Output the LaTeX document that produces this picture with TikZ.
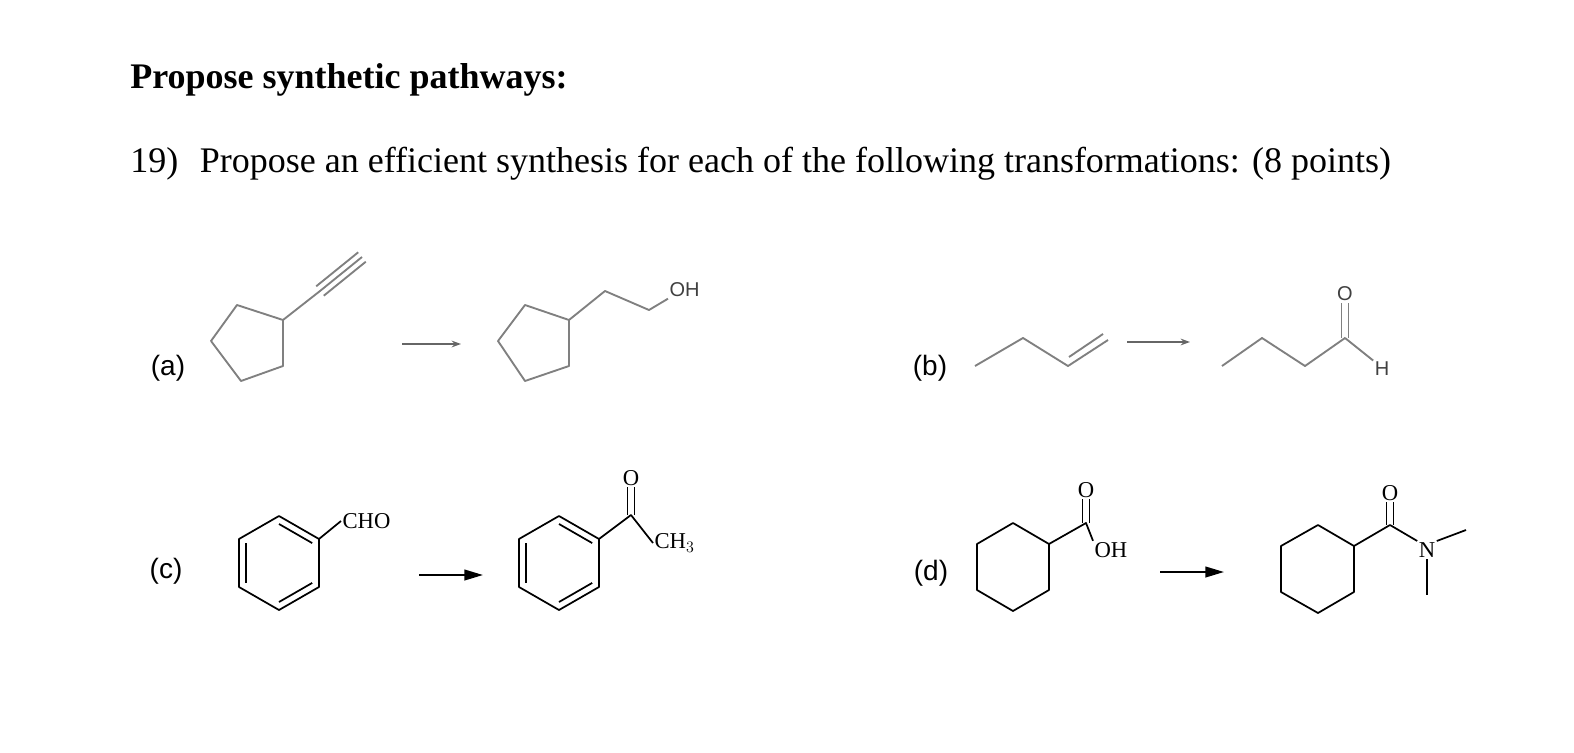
\documentclass[tikz,border=0pt]{standalone}
\usepackage{fontspec}
\setmainfont{Liberation Serif}
\newfontfamily\arial{Liberation Sans}
\usetikzlibrary{calc,arrows.meta}
\begin{document}
\begin{tikzpicture}[x=0.75pt,y=-0.75pt,
  gb/.style={draw=black!50,line width=1.4pt,line join=round},
  bb/.style={draw=black,line width=1.3pt,line join=round},
  lbl/.style={font=\arial\fontsize{21}{24}\selectfont,inner sep=0pt},
  atg/.style={font=\arial\fontsize{15}{18}\selectfont,inner sep=1pt,text=black!75},
  atb/.style={font=\fontsize{17}{20}\selectfont,inner sep=1pt},
  garr/.style={draw=black!60,line width=1.2pt,-{Stealth[length=7pt,width=5pt]}},
  barr/.style={draw=black,line width=1.5pt,-{Triangle[length=14pt,width=8pt]}}]
\useasboundingbox[fill=white] (0,0) rectangle (1574,753);
\node[anchor=base west,inner sep=0pt,font=\bfseries\fontsize{27}{32}\selectfont] (title) at (130,88) {Propose synthetic pathways:};
\node[anchor=base west,inner sep=0pt,font=\fontsize{27}{32}\selectfont] (q) at (130,172) {19)\hspace{0.6em}Propose an efficient synthesis for each of the following transformations: (8 points)};
% ---------- (a)
\node[lbl] (la) at (168,368) {(a)};
\coordinate (a1) at (237,305); \coordinate (a2) at (283,320); \coordinate (a3) at (283,366);
\coordinate (a4) at (241,381); \coordinate (a5) at (211,341);
\draw[gb] (a1)--(a2)--(a3)--(a4)--(a5)--cycle;
\coordinate (a6) at (320,291); \coordinate (a7) at (362,257);
\draw[gb] (a2)--(a6)--(a7);
\draw[gb] ($(a6)+(3.8,4.7)$)--($(a7)+(3.8,4.7)$);
\draw[gb] ($(a6)+(-3.8,-4.7)$)--($(a7)+(-3.8,-4.7)$);
\coordinate (aa1) at (402,344); \coordinate (aa2) at (461,344);
\draw[garr] (aa1)--(aa2);
\coordinate (b1) at (525,305); \coordinate (b2) at (569,320); \coordinate (b3) at (569,366);
\coordinate (b4) at (525,381); \coordinate (b5) at (498,341);
\draw[gb] (b1)--(b2)--(b3)--(b4)--(b5)--cycle;
\coordinate (b6) at (605,291); \coordinate (b7) at (649,310);
\node[atg,anchor=west] (oha) at (668,290) {OH};
\draw[gb] (b2)--(b6)--(b7)--(oha.south west);
% ---------- (b)
\node[lbl] (lb) at (930,368) {(b)};
\coordinate (c1) at (975,366); \coordinate (c2) at (1023,338); \coordinate (c3) at (1068,366); \coordinate (c4) at (1108,340);
\draw[gb] (c1)--(c2)--(c3)--(c4);
\draw[gb] (1069,357)--(1103,334);
\coordinate (ba1) at (1127,342); \coordinate (ba2) at (1190,342);
\draw[garr] (ba1)--(ba2);
\coordinate (d1) at (1222,366); \coordinate (d2) at (1262,338); \coordinate (d3) at (1305,366); \coordinate (d4) at (1345,338);
\node[atg] (ob) at (1345,294) {O};
\node[atg] (hb) at (1382,369) {H};
\draw[gb] (d1)--(d2)--(d3)--(d4)--(hb.north west);
\draw[gb] ($(d4)+(-3.5,0)$)--($(ob.south)+(-3.5,0)$);
\draw[gb] ($(d4)+(3.5,0)$)--($(ob.south)+(3.5,0)$);
% ---------- (c)
\node[lbl] (lc) at (166,571) {(c)};
\coordinate (ec) at (279,563);
\foreach \i/\ang in {1/90,2/30,3/-30,4/-90,5/-150,6/150} \coordinate (e\i) at ($(ec)+(\ang:-47 and 47)$);
\coordinate (e1) at (279,516); \coordinate (e2) at (319,539); \coordinate (e3) at (319,587);
\coordinate (e4) at (279,610); \coordinate (e5) at (239,587); \coordinate (e6) at (239,539);
\draw[bb] (e1)--(e2)--(e3)--(e4)--(e5)--(e6)--cycle;
\draw[bb] ($(e1)!.17!(ec)$)--($(e2)!.17!(ec)$);
\draw[bb] ($(e3)!.17!(ec)$)--($(e4)!.17!(ec)$);
\draw[bb] ($(e5)!.17!(ec)$)--($(e6)!.17!(ec)$);
\node[atb,anchor=west] (cho) at (341,521) {CHO};
\draw[bb] (e2)--(cho.west);
\coordinate (ca1) at (419,575); \coordinate (ca2) at (483,575);
\draw[barr] (ca1)--(ca2);
\coordinate (fc) at (559,563);
\coordinate (f1) at (559,516); \coordinate (f2) at (599,539); \coordinate (f3) at (599,587);
\coordinate (f4) at (559,610); \coordinate (f5) at (519,587); \coordinate (f6) at (519,539);
\draw[bb] (f1)--(f2)--(f3)--(f4)--(f5)--(f6)--cycle;
\draw[bb] ($(f1)!.17!(fc)$)--($(f2)!.17!(fc)$);
\draw[bb] ($(f3)!.17!(fc)$)--($(f4)!.17!(fc)$);
\draw[bb] ($(f5)!.17!(fc)$)--($(f6)!.17!(fc)$);
\coordinate (f7) at (631,515);
\node[atb] (oc) at (631,478) {O};
\node[atb,anchor=west] (ch3) at (653,543) {CH$_3$};
\draw[bb] (f2)--(f7)--(ch3.west);
\draw[bb] ($(f7)+(-3.5,0)$)--($(oc.south)+(-3.5,0)$);
\draw[bb] ($(f7)+(3.5,0)$)--($(oc.south)+(3.5,0)$);
% ---------- (d)
\node[lbl] (ld) at (931,573) {(d)};
\coordinate (g1) at (1013,523); \coordinate (g2) at (1049,544); \coordinate (g3) at (1049,590);
\coordinate (g4) at (1013,611); \coordinate (g5) at (977,590); \coordinate (g6) at (977,544);
\draw[bb] (g1)--(g2)--(g3)--(g4)--(g5)--(g6)--cycle;
\coordinate (g7) at (1086,523);
\node[atb] (od) at (1086,490) {O};
\node[atb,anchor=west] (ohd) at (1093,550) {OH};
\draw[bb] (g2)--(g7)--(ohd.north west);
\draw[bb] ($(g7)+(-3.5,0)$)--($(od.south)+(-3.5,0)$);
\draw[bb] ($(g7)+(3.5,0)$)--($(od.south)+(3.5,0)$);
\coordinate (da1) at (1160,572); \coordinate (da2) at (1224,572);
\draw[barr] (da1)--(da2);
\coordinate (h1) at (1318,525); \coordinate (h2) at (1354,546); \coordinate (h3) at (1354,592);
\coordinate (h4) at (1318,613); \coordinate (h5) at (1281,592); \coordinate (h6) at (1281,546);
\draw[bb] (h1)--(h2)--(h3)--(h4)--(h5)--(h6)--cycle;
\coordinate (h7) at (1390,525);
\node[atb] (odd) at (1390,493) {O};
\node[atb] (nd) at (1427,550) {N};
\draw[bb] (h2)--(h7)--(nd.north west);
\draw[bb] ($(h7)+(-3.5,0)$)--($(odd.south)+(-3.5,0)$);
\draw[bb] ($(h7)+(3.5,0)$)--($(odd.south)+(3.5,0)$);
\coordinate (m1) at (1466,530); \coordinate (m2) at (1427,595);
\draw[bb] (nd.north east)--(m1);
\draw[bb] (nd.south)--(m2);
\end{tikzpicture}
\end{document}
